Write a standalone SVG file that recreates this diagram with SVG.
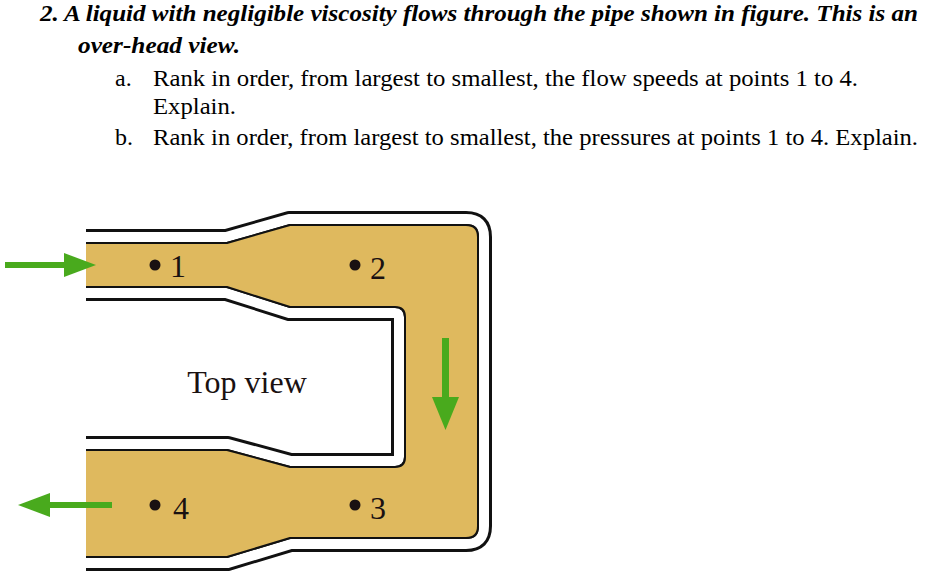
<svg xmlns="http://www.w3.org/2000/svg" width="925" height="572" viewBox="0 0 925 572">
<style>
.t{font-family:"Liberation Serif",serif;font-size:24px;fill:#000}
.h{font-weight:bold;font-style:italic}
.lbl{font-family:"Liberation Serif",serif;font-size:32px;fill:#1a1111}
.w1{fill:none;stroke:#111;stroke-width:14;stroke-linejoin:round}
.w2{fill:none;stroke:#fff;stroke-width:10;stroke-linejoin:round}
.w3{fill:none;stroke:#111;stroke-width:2;stroke-linejoin:round}
.g{fill:#49aa1d;stroke:none}
</style>
<rect width="925" height="572" fill="#fff"/>
<text class="t h" x="40" y="21" textLength="878" lengthAdjust="spacingAndGlyphs">2.  A liquid with negligible viscosity flows through the pipe shown in figure. This is an</text>
<text class="t h" x="78" y="53" textLength="162" lengthAdjust="spacingAndGlyphs">over-head view.</text>
<text class="t" x="115" y="86">a.</text>
<text class="t" x="153" y="86" textLength="705" lengthAdjust="spacingAndGlyphs">Rank in order, from largest to smallest, the flow speeds at points 1 to 4.</text>
<text class="t" x="153" y="114" textLength="83" lengthAdjust="spacingAndGlyphs">Explain.</text>
<text class="t" x="115" y="145">b.</text>
<text class="t" x="153" y="145" textLength="765" lengthAdjust="spacingAndGlyphs">Rank in order, from largest to smallest, the pressures at points 1 to 4. Explain.</text>
<g id="pipe">
<path fill="#dfb95e" d="M86,243 L227,243 L290,225 L466,225 Q478,225 478,237 L478,526 Q478,538 466,538 L290,538 L227,557 L86,557 L86,450 L227,450 L290,467 L395,467 Q405,467 405,457 L405,317 Q405,307 395,307 L290,307 L227,287 L86,287 Z"/>
<clipPath id="c"><rect x="86" y="200" width="500" height="372"/></clipPath>
<g clip-path="url(#c)">
<path class="w1" d="M80,236 L226,236 L289,218 L466,218 Q485,218 485,237 L485,526 Q485,545 466,545 L291,545 L228,564 L80,564"/>
<path class="w2" d="M80,237 L226,237 L289,219 L466,219 Q484,219 484,237 L484,526 Q484,544 466,544 L291,544 L228,563 L80,563"/>
<path class="w3" d="M80,243 L227,243 L290,225 L466,225 Q478,225 478,237 L478,526 Q478,538 466,538 L290,538 L227,557 L80,557"/>
<path class="w1" d="M80,294 L226,294 L289,314 L395,314 Q398,314 398,317 L398,457 Q398,460 395,460 L291,460 L228,443 L80,443"/>
<path class="w2" d="M80,293 L226,293 L289,313 L395,313 Q399,313 399,317 L399,457 Q399,461 395,461 L291,461 L228,444 L80,444"/>
<path class="w3" d="M80,287 L227,287 L290,307 L395,307 Q405,307 405,317 L405,457 Q405,467 395,467 L290,467 L227,450 L80,450"/>
</g>
</g>
<text class="lbl" x="247" y="393" text-anchor="middle" font-size="36">Top view</text>
<g id="p1"><circle cx="155" cy="265" r="5.5" fill="#1a1111"/><text class="lbl" x="170" y="277">1</text></g>
<g id="p2"><circle cx="355" cy="265" r="5.5" fill="#1a1111"/><text class="lbl" x="370" y="279">2</text></g>
<g id="p3"><circle cx="355" cy="505" r="5.5" fill="#1a1111"/><text class="lbl" x="370" y="519">3</text></g>
<g id="p4"><circle cx="155" cy="505" r="5.5" fill="#1a1111"/><text class="lbl" x="173" y="519">4</text></g>
<g id="connectors">
<rect class="g" x="5" y="262" width="62" height="6"/><polygon class="g" points="64,253 96,265 64,277"/>
<rect class="g" x="442" y="338" width="7" height="62"/><polygon class="g" points="432,397 459,397 445.5,430"/>
<rect class="g" x="48" y="502" width="64" height="6"/><polygon class="g" points="50,493 18,505 50,517"/>
</g>
</svg>
